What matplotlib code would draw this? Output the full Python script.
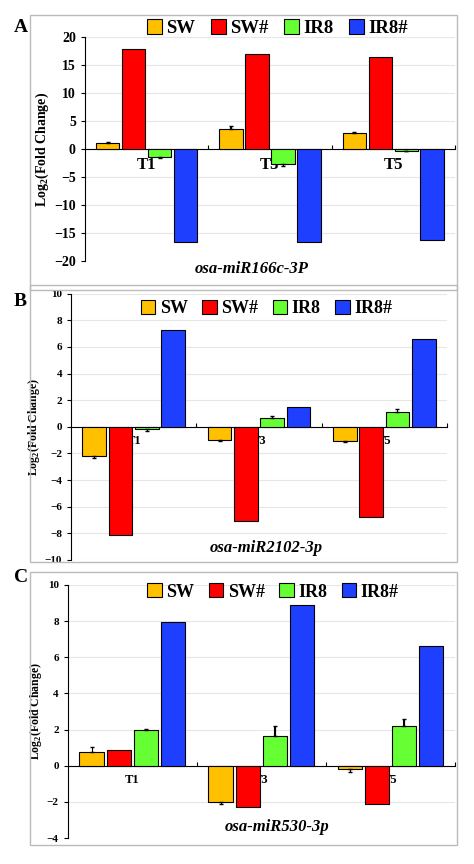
import numpy as np
import matplotlib
matplotlib.use('Agg')
import matplotlib.pyplot as plt
from matplotlib.patches import Rectangle

plt.rcParams['font.family'] = ['Liberation Serif', 'DejaVu Serif']
plt.rcParams['font.weight'] = 'bold'
plt.rcParams['mathtext.fontset'] = 'custom'
plt.rcParams['mathtext.rm'] = 'Liberation Serif:bold'
plt.rcParams['mathtext.bf'] = 'Liberation Serif:bold'

times = ['T1', 'T3', 'T5']
series = ['SW', 'SW#', 'IR8', 'IR8#']
colors = ['#FFC000', '#FF0000', '#66FF33', '#1F3FFF']

# panel A: osa-miR166c-3P
a_sw = [1.1, 3.5, 2.8]
a_sw_err = [0.2, 0.6, 0.2]
a_swh = [17.8, 16.9, 16.4]
a_ir8 = [-1.4, -2.7, -0.3]
a_ir8_err = [0.2, 0.3, 0.1]
a_ir8h = [-16.7, -16.7, -16.3]

# panel B: osa-miR2102-3p
b_sw = [-2.2, -1.0, -1.1]
b_sw_err = [0.15, 0.05, 0.05]
b_swh = [-8.1, -7.1, -6.8]
b_ir8 = [-0.2, 0.7, 1.1]
b_ir8_err = [0.1, 0.15, 0.25]
b_ir8h = [7.3, 1.5, 6.6]

# panel C: osa-miR530-3p
c_sw = [0.75, -2.0, -0.2]
c_sw_err = [0.3, 0.1, 0.15]
c_swh = [0.85, -2.3, -2.1]
c_ir8 = [1.95, 1.65, 2.2]
c_ir8_err = [0.1, 0.55, 0.4]
c_ir8h = [7.95, 8.9, 6.6]

fig = plt.figure(figsize=(4.74, 8.64), dpi=100)
W, H = 474, 864

# outer panel frames
for (x0, y0, x1, y1) in [(30, 15, 457, 290), (30, 285, 457, 562), (30, 572, 457, 845)]:
    fig.patches.append(Rectangle((x0 / W, 1 - y1 / H), (x1 - x0) / W, (y1 - y0) / H,
                                 transform=fig.transFigure, fill=False,
                                 edgecolor='#bbbbbb', lw=1))
for lab, y in [('A', 27), ('B', 301), ('C', 578)]:
    fig.text(14 / W, 1 - y / H, lab, fontsize=14, fontweight='bold', va='center')

panels = [
    dict(rect=[0.179, 0.698, 0.781, 0.259], vals=[a_sw, a_swh, a_ir8, a_ir8h],
         errs=[a_sw_err, None, a_ir8_err, None], ylim=(-20, 20), step=5,
         name='osa-miR166c-3P', name_pos=(0.45, -0.035), leg=(0.52, 1.04),
         tfs=10, cfs=12, lfs=13.5, yfs=10),
    dict(rect=[0.150, 0.352, 0.793, 0.308], vals=[b_sw, b_swh, b_ir8, b_ir8h],
         errs=[b_sw_err, None, b_ir8_err, None], ylim=(-10, 10), step=2,
         name='osa-miR2102-3p', name_pos=(0.52, 0.045), leg=(0.52, 0.944),
         tfs=8, cfs=9, lfs=13, yfs=8.5),
    dict(rect=[0.143, 0.030, 0.817, 0.293], vals=[c_sw, c_swh, c_ir8, c_ir8h],
         errs=[c_sw_err, None, c_ir8_err, None], ylim=(-4, 10), step=2,
         name='osa-miR530-3p', name_pos=(0.54, 0.043), leg=(0.53, 0.972),
         tfs=8, cfs=9, lfs=13, yfs=8.5),
]

x = np.arange(len(times))
bw, step = 0.19, 0.21
for p in panels:
    ax = fig.add_axes(p['rect'])
    for k, (vals, err) in enumerate(zip(p['vals'], p['errs'])):
        ax.bar(x + (k - 1.5) * step, vals, bw, color=colors[k], edgecolor='black',
               lw=0.8, label=series[k], zorder=3,
               yerr=None if err is None else [np.zeros(3), err] if np.all(np.array(vals) > 0) else None)
        if err is not None:
            v = np.array(vals)
            e = np.array(err)
            lo = np.where(v < 0, e, 0)
            hi = np.where(v >= 0, e, 0)
            ax.errorbar(x + (k - 1.5) * step, v, yerr=[lo, hi], fmt='none',
                        ecolor='black', elinewidth=0.8, capsize=1.5, zorder=4)
    lo_, hi_ = p['ylim']
    ax.set_ylim(lo_, hi_)
    ax.set_xlim(-0.5, 2.5)
    ax.set_yticks(np.arange(lo_, hi_ + 0.1, p['step']))
    ax.yaxis.grid(True, color='#e6e6e6', lw=0.8, zorder=0)
    ax.tick_params(axis='y', labelsize=p['tfs'], length=3)
    ax.spines['bottom'].set_position(('data', 0))
    ax.spines['top'].set_visible(False)
    ax.spines['right'].set_visible(False)
    ax.set_xticks([0.5, 1.5, 2.5])
    ax.set_xticklabels([])
    ax.set_xticks(x, minor=True)
    ax.set_xticklabels(times, minor=True, fontsize=p['cfs'])
    ax.tick_params(axis='x', which='minor', length=0, pad=6)
    ax.tick_params(axis='x', which='major', length=3, direction='in')
    ax.set_ylabel('Log$_2$(Fold Change)', fontsize=p['yfs'], fontweight='bold', labelpad=2)
    ax.text(p['name_pos'][0], p['name_pos'][1], p['name'], transform=ax.transAxes,
            ha='center', va='center', fontsize=12, style='italic', fontweight='bold')
    ax.legend(loc='center', bbox_to_anchor=p['leg'], ncol=4, frameon=False,
              fontsize=p['lfs'], handlelength=0.8, handleheight=0.8,
              handletextpad=0.25, columnspacing=0.8, borderaxespad=0)

fig.savefig('out.png', dpi=100)
